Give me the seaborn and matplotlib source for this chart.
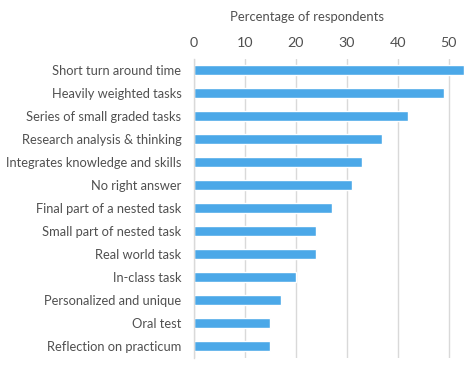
import matplotlib
matplotlib.use("Agg")
import matplotlib.pyplot as plt
import seaborn as sns
import pandas as pd

categories = [
    "Short turn around time",
    "Heavily weighted tasks",
    "Series of small graded tasks",
    "Research analysis & thinking",
    "Integrates knowledge and skills",
    "No right answer",
    "Final part of a nested task",
    "Small part of nested task",
    "Real world task",
    "In-class task",
    "Personalized and unique",
    "Oral test",
    "Reflection on practicum",
]
values = [53, 49, 42, 37, 33, 31, 27, 24, 24, 20, 17, 15, 15]
xticks = [0, 10, 20, 30, 40, 50]

df = pd.DataFrame({"category": categories, "value": values})

sns.set_theme(style="white")
plt.rcParams["font.family"] = ["Lato", "DejaVu Sans"]

W, H = 474, 369
fig = plt.figure(figsize=(W / 100, H / 100), dpi=100)
ax = fig.add_axes([194 / W, 1 - 357.5 / H, (465 - 194) / W, (357.5 - 58.5) / H])

sns.barplot(data=df, x="value", y="category", color="#4BA8E8", width=0.4,
            saturation=1, ax=ax, orient="h")

txt = "#505050"
ax.set_xlim(0, 53.2)
ax.set_xticks(xticks)
ax.xaxis.tick_top()
ax.tick_params(axis="x", length=0, pad=7, labelsize=10.3, labelcolor=txt)
ax.tick_params(axis="y", length=0, pad=9, labelsize=9.3, labelcolor=txt)
ax.set_xlabel("")
ax.set_ylabel("")
ax.grid(axis="x", color="#d9d9d9", linewidth=1)
ax.set_axisbelow(True)
for s in ["top", "right", "bottom"]:
    ax.spines[s].set_visible(False)
ax.spines["left"].set_color("#d9d9d9")
ax.spines["left"].set_linewidth(1)

fig.text(306.5 / W, 1 - 17 / H, "Percentage of respondents", ha="center", va="center",
         fontsize=9.4, color=txt)

fig.savefig("out.png", dpi=100)
